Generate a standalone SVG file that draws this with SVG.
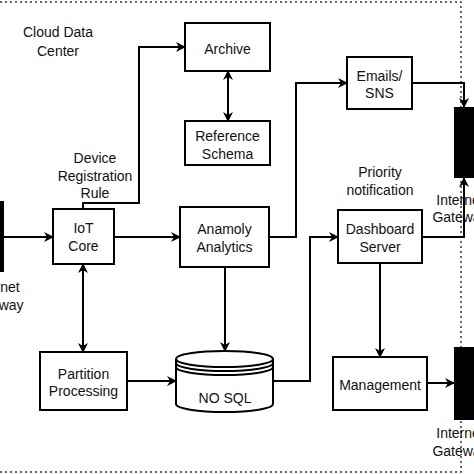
<svg xmlns="http://www.w3.org/2000/svg" width="474" height="474" viewBox="0 0 474 474">
<defs>
<marker id="arr" viewBox="0 0 10 10" refX="9" refY="5" markerWidth="5" markerHeight="5" orient="auto-start-reverse" markerUnits="strokeWidth">
<path d="M0,0 L10,5 L0,10 L3,5 z" fill="#000"/>
</marker>
</defs>
<style>
text{font-family:"Liberation Sans",Arial,sans-serif;font-size:14px;fill:#111;text-anchor:middle}
.box{fill:#fff;stroke:#000;stroke-width:2}
.bar{fill:#000}
.c{fill:none;stroke:#000;stroke-width:2}
.a{marker-end:url(#arr)}
.b{marker-start:url(#arr);marker-end:url(#arr)}
.dot{fill:none;stroke:#333;stroke-width:1.5;stroke-dasharray:2 3}
</style>
<rect width="474" height="474" fill="#fff"/>
<g id="boundary">
<path class="dot" d="M0,2 H461 V472 H0"/>
<text x="58" y="37">Cloud Data</text>
<text x="58" y="56">Center</text>
</g>
<g id="connectors">
<path class="c a" d="M4,237 H53"/>
<path class="c a" d="M114,237 H180"/>
<path class="c a" d="M83,209 V203 H139 V47 H185"/>
<path class="c b" d="M228,71 V121"/>
<path class="c b" d="M83,264 V352"/>
<path class="c a" d="M127,381 H176"/>
<path class="c a" d="M225,267 V351"/>
<path class="c a" d="M269,237 H296 V83 H347"/>
<path class="c a" d="M412,83 H464 V107"/>
<path class="c a" d="M422,237 H464 V178"/>
<path class="c a" d="M273,381 H310 V237 H338"/>
<path class="c a" d="M380,263 V357"/>
<path class="c a" d="M427,383 H454"/>
<text x="95" y="163">Device</text>
<text x="95" y="181">Registration</text>
<text x="95" y="198">Rule</text>
<text x="380" y="177">Priority</text>
<text x="380" y="195">notification</text>
</g>
<g id="gateway-left">
<rect class="bar" x="-16" y="201" width="20" height="71"/>
<text x="-4" y="292">Internet</text>
<text x="-4" y="310">Gateway</text>
</g>
<g id="iot-core">
<rect class="box" x="53" y="209" width="61" height="55"/>
<text x="83.5" y="233">IoT</text>
<text x="83.5" y="251">Core</text>
</g>
<g id="archive">
<rect class="box" x="185" y="23" width="85" height="48"/>
<text x="227.5" y="54">Archive</text>
</g>
<g id="reference-schema">
<rect class="box" x="185" y="121" width="85" height="44"/>
<text x="227.5" y="141">Reference</text>
<text x="227.5" y="159">Schema</text>
</g>
<g id="anamoly-analytics">
<rect class="box" x="180" y="207" width="89" height="60"/>
<text x="224.5" y="234">Anamoly</text>
<text x="224.5" y="252">Analytics</text>
</g>
<g id="partition-processing">
<rect class="box" x="40" y="352" width="87" height="58"/>
<text x="83.5" y="379">Partition</text>
<text x="83.5" y="396">Processing</text>
</g>
<g id="nosql">
<path class="box" d="M176,359 A48.5,8 0 0 1 273,359 V404 A48.5,8 0 0 1 176,404 Z"/>
<path class="c" d="M176,359 A48.5,8 0 0 0 273,359"/>
<path class="c" d="M176,363 A48.5,8 0 0 0 273,363"/>
<path class="c" d="M176,367 A48.5,8 0 0 0 273,367"/>
<text x="225" y="403">NO SQL</text>
</g>
<g id="emails-sns">
<rect class="box" x="347" y="57" width="65" height="52"/>
<text x="379.5" y="81">Emails/</text>
<text x="379.5" y="98">SNS</text>
</g>
<g id="dashboard-server">
<rect class="box" x="338" y="210" width="84" height="53"/>
<text x="380" y="234">Dashboard</text>
<text x="380" y="252">Server</text>
</g>
<g id="management">
<rect class="box" x="333" y="357" width="94" height="53"/>
<text x="380" y="390">Management</text>
</g>
<g id="gateway-right-top">
<rect class="bar" x="454" y="107" width="22" height="71"/>
<text x="460" y="205">Internet</text>
<text x="460" y="222">Gateway</text>
</g>
<g id="gateway-right-bottom">
<rect class="bar" x="454" y="347" width="22" height="73"/>
<text x="460" y="438">Internet</text>
<text x="460" y="456">Gateway</text>
</g>
</svg>
